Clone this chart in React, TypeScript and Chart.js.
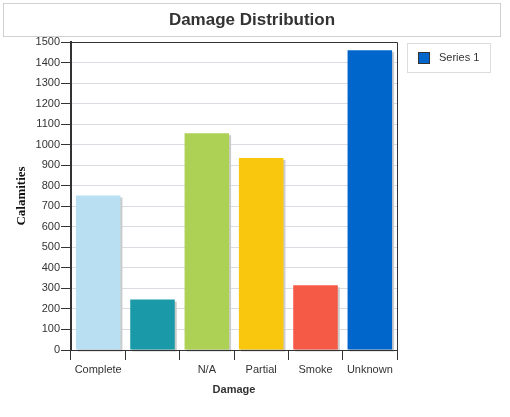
import React, { useEffect, useRef } from "react";
import { Chart, registerables } from "chart.js";

Chart.register(...registerables);

const categories = ["Complete", "", "N/A", "Partial", "Smoke", "Unknown"];
const calamities = [752, 246, 1055, 935, 315, 1460];
const barColors = ["#b8e0f2", "#1a9aa8", "#acd155", "#f9c80e", "#f55a47", "#0066cc"];
const yTicks = { min: 0, max: 1500, step: 100 };

const SANS = "Arial, 'Liberation Sans', sans-serif";

export default function App() {
  const canvasRef = useRef<HTMLCanvasElement>(null);
  const chartRef = useRef<Chart | null>(null);

  useEffect(() => {
    if (!canvasRef.current) return;
    chartRef.current?.destroy();

    chartRef.current = new Chart(canvasRef.current, {
      type: "bar",
      data: {
        labels: categories,
        datasets: [
          {
            label: "Series 1",
            data: calamities,
            backgroundColor: barColors,
            borderWidth: 0,
            barPercentage: 0.82,
            categoryPercentage: 1,
            clip: false as any,
          },
        ],
      },
      options: {
        animation: false,
        responsive: false,
        maintainAspectRatio: false,
        layout: { padding: { top: 42, right: 113, bottom: 0, left: 0 } },
        plugins: {
          legend: { display: false },
          tooltip: { enabled: false },
        },
        scales: {
          x: {
            afterFit: (s: any) => {
              s.height = 67;
            },
            grid: {
              offset: true,
              drawOnChartArea: false,
              drawTicks: true,
              tickLength: 10,
              tickColor: "#333",
            },
            border: { color: "#333", width: 1, z: 1 },
            ticks: {
              color: "#333",
              font: { size: 11, family: SANS },
              padding: 3,
            },
            title: {
              display: true,
              text: "Damage",
              color: "#333",
              font: { size: 11, weight: "bold", family: SANS },
              padding: { top: 0, bottom: 20 },
            },
          },
          y: {
            min: yTicks.min,
            max: yTicks.max,
            afterFit: (s: any) => {
              s.width = 71;
            },
            grid: {
              color: "#d9dde1",
              tickColor: "#333",
              tickLength: 10,
            },
            border: { color: "#333", width: 2 },
            ticks: {
              stepSize: yTicks.step,
              color: "#333",
              font: { size: 11, family: SANS },
              padding: 1,
              callback: (v) => String(v),
            },
            title: {
              display: true,
              text: "Calamities",
              color: "#111",
              font: { size: 13, weight: "bold", family: "'Liberation Serif', 'Times New Roman', serif" },
              padding: { top: 14, bottom: 0 },
            },
          },
        },
      },
      plugins: [
        {
          id: "barShadow",
          beforeDatasetsDraw: (chart) => {
            const ctx = chart.ctx;
            ctx.save();
            ctx.shadowColor = "#cccccc";
            ctx.shadowOffsetX = 2;
            ctx.shadowOffsetY = 2;
            ctx.shadowBlur = 0;
          },
          afterDatasetsDraw: (chart) => {
            chart.ctx.restore();
          },
        },
        {
          id: "plotBorder",
          afterDraw: (chart) => {
            const ctx = chart.ctx;
            const { left, right, top, bottom } = chart.chartArea;
            ctx.save();
            ctx.strokeStyle = "#333";
            ctx.lineWidth = 1;
            ctx.beginPath();
            ctx.moveTo(left, top + 0.5);
            ctx.lineTo(right + 0.5, top + 0.5);
            ctx.lineTo(right + 0.5, bottom);
            ctx.stroke();
            ctx.restore();
          },
        },
      ],
    });

    return () => {
      chartRef.current?.destroy();
      chartRef.current = null;
    };
  }, []);

  return (
    <div
      style={{
        position: "fixed",
        left: 0,
        top: 0,
        width: 510,
        height: 417,
        background: "#fff",
        fontFamily: SANS,
      }}
    >
      <canvas ref={canvasRef} width={510} height={417} style={{ position: "absolute", left: 0, top: 0 }} />
      {/* Title box */}
      <div
        style={{
          position: "absolute",
          left: 3,
          top: 3,
          width: 496,
          height: 32,
          border: "1px solid #d0d0d0",
          textAlign: "center",
          lineHeight: "32px",
          fontSize: 17,
          fontWeight: "bold",
          color: "#333",
        }}
      >
        Damage Distribution
      </div>
      {/* Legend */}
      <div
        style={{
          position: "absolute",
          left: 407,
          top: 43,
          width: 82,
          height: 28,
          border: "1px solid #dcdcdc",
          fontSize: 11,
          color: "#333",
        }}
      >
        <span
          style={{
            position: "absolute",
            left: 10,
            top: 8,
            width: 10,
            height: 10,
            background: barColors[barColors.length - 1],
            border: "1px solid #333",
          }}
        />
        <span style={{ position: "absolute", left: 31, top: 7, lineHeight: "13px" }}>Series 1</span>
      </div>
    </div>
  );
}
